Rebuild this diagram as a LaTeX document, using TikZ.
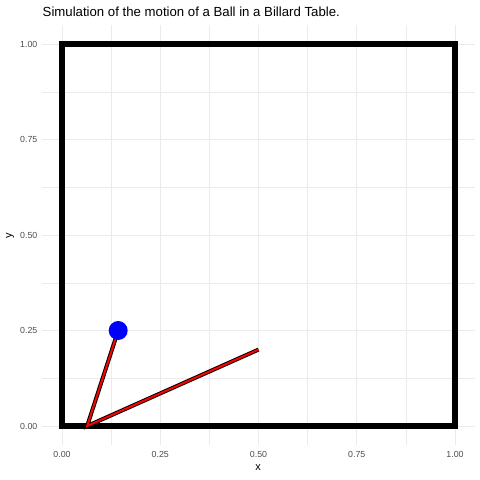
\documentclass[tikz,border=0pt]{standalone}
\usepackage{fontspec}
\setmainfont{Liberation Sans}
\definecolor{gridc}{HTML}{EBEBEB}
\definecolor{tickc}{HTML}{4D4D4D}
\begin{document}
\begin{tikzpicture}[x=1pt,y=-1pt,
  majorgrid/.style={draw=gridc,line width=0.9pt},
  minorgrid/.style={draw=gridc,line width=0.45pt},
  ticklab/.style={text=tickc,font=\fontsize{8.8}{10}\selectfont,inner sep=0pt},
  axtitle/.style={text=black,font=\fontsize{11}{12}\selectfont,inner sep=0pt},
  frame/.style={draw=black,line width=6pt},
  trajout/.style={draw=black,line width=4pt},
  trajin/.style={draw=red,line width=2pt},
  ball/.style={circle,fill=blue,inner sep=0pt,minimum size=19pt}]
\useasboundingbox (0,0) rectangle (480,480);
\fill[white] (0,0) rectangle (480,480);
% data -> pixel: px = 62 + 393 x ; py = 426 - 382 y
\def\X#1{\fpeval{62+393*(#1)}}
\def\Y#1{\fpeval{426-382*(#1)}}
% minor grid
\foreach \v in {0.125,0.375,0.625,0.875}{
  \draw[minorgrid] (\X{\v},25) -- (\X{\v},445);
  \draw[minorgrid] (42,\Y{\v}) -- (475,\Y{\v});
}
% major grid
\foreach \v in {0,0.25,0.5,0.75,1}{
  \draw[majorgrid] (\X{\v},25) -- (\X{\v},445);
  \draw[majorgrid] (42,\Y{\v}) -- (475,\Y{\v});
}
% tick labels
\foreach \v/\t [count=\i] in {0/0.00,0.25/0.25,0.5/0.50,0.75/0.75,1/1.00}{
  \node[ticklab,anchor=east] (yl\i) at (37.5,\Y{\v}) {\t};
  \node[ticklab] (xl\i) at (\X{\v},454) {\t};
}
\node[axtitle] (xtitle) at (258,468) {x};
\node[axtitle,rotate=90] (ytitle) at (10,236) {y};
\node[anchor=west,inner sep=0pt,font=\fontsize{13.2}{14}\selectfont] (title) at (42.5,12) {Simulation of the motion of a Ball in a Billard Table.};
% table frame
\draw[frame] (\X{0},\Y{0}) rectangle (\X{1},\Y{1});
% trajectory
\coordinate (p0) at (\X{0.143},\Y{0.25});
\coordinate (p1) at (\X{0.064},\Y{0});
\coordinate (p2) at (\X{0.5},\Y{0.2});
\draw[trajout] (p0) -- (p1) -- (p2);
\draw[trajin] (p0) -- (p1) -- (p2);
\node[ball] (ballnode) at (p0) {};
\end{tikzpicture}
\end{document}
